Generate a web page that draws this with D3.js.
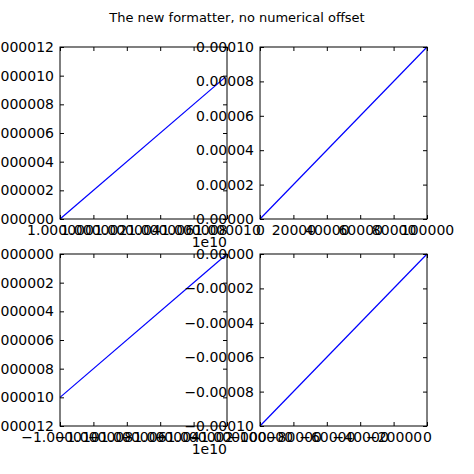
<!DOCTYPE html><html><head><meta charset="utf-8"><script src="https://cdn.jsdelivr.net/npm/d3@7"></script>
<style>body{margin:0;background:#fff}</style></head><body><svg width="474" height="474"></svg>
<script>
const title = "The new formatter, no numerical offset";
const p1x = [0, 1e5], p1y = [0, 12], p1xt = [0,2e4,4e4,6e4,8e4,1e5], p1xl = ["1.000000","1.000002","1.000004","1.000006","1.000008","1.000010"];
const p1yt = [0,2,4,6,8,10,12], p1yl = ["1.000000","1.000002","1.000004","1.000006","1.000008","1.000010","1.000012"];
const p1line = [[0,0],[99000,9.9]];
const p2x = [0, 1e5], p2y = [0, 1e-4], p2xt = [0,2e4,4e4,6e4,8e4,1e5], p2xl = ["0","20000","40000","60000","80000","100000"];
const p2yt = [0,2e-5,4e-5,6e-5,8e-5,1e-4], p2yl = ["0.00000","0.00002","0.00004","0.00006","0.00008","0.00010"];
const p2line = [[0,0],[1e5,1e-4]];
const p3x = [-10, 0], p3y = [-12, 0], p3xt = [-10,-8,-6,-4,-2,0], p3xl = ["\u22121.000010","\u22121.000008","\u22121.000006","\u22121.000004","\u22121.000002","\u22121.000000"];
const p3yt = [0,-2,-4,-6,-8,-10,-12], p3yl = ["\u22121.000000","\u22121.000002","\u22121.000004","\u22121.000006","\u22121.000008","\u22121.000010","\u22121.000012"];
const p3line = [[-10,-10],[0,0]];
const p4x = [-1e5, 0], p4y = [-1e-4, 0], p4xt = [-1e5,-8e4,-6e4,-4e4,-2e4,0], p4xl = ["\u2212100000","\u221280000","\u221260000","\u221240000","\u221220000","0"];
const p4yt = [0,-2e-5,-4e-5,-6e-5,-8e-5,-1e-4], p4yl = ["0.00000","\u22120.00002","\u22120.00004","\u22120.00006","\u22120.00008","\u22120.00010"];
const p4line = [[-1e5,-1e-4],[0,0]];

const svg = d3.select("svg");
const F = "DejaVu Sans, sans-serif";
svg.append("text").attr("x",237).attr("y",22).attr("text-anchor","middle").attr("font-family",F).attr("font-size",13).text(title);
const panels = [
 {l:60,t:47,xd:p1x,yd:p1y,xt:p1xt,xl:p1xl,yt:p1yt,yl:p1yl,line:p1line,off:"1e10"},
 {l:260,t:47,xd:p2x,yd:p2y,xt:p2xt,xl:p2xl,yt:p2yt,yl:p2yl,line:p2line},
 {l:60,t:254,xd:p3x,yd:p3y,xt:p3xt,xl:p3xl,yt:p3yt,yl:p3yl,line:p3line,off:"1e10"},
 {l:260,t:254,xd:p4x,yd:p4y,xt:p4xt,xl:p4xl,yt:p4yt,yl:p4yl,line:p4line}
];
const W=167,H=172;
panels.forEach(p=>{
  const g=svg.append("g").attr("transform",`translate(${p.l},${p.t})`);
  const x=d3.scaleLinear().domain(p.xd).range([0,W]);
  const y=d3.scaleLinear().domain(p.yd).range([H,0]);
  g.append("path").datum(p.line).attr("fill","none").attr("stroke","#0000ff").attr("stroke-width",1.2)
   .attr("d",d3.line().x(d=>x(d[0])).y(d=>y(d[1])));
  const mk=(ax,vals,labels,tr,show)=>{
    const a=g.append("g").attr("transform",tr).call(ax.tickValues(vals).tickSize(-4).tickPadding(6).tickFormat(show?(d,i)=>labels[i]:""));
    a.select(".domain").remove();
    a.selectAll("line").attr("stroke","#000");
    a.selectAll("text").attr("font-family",F).attr("font-size",14).attr("fill","#000");
  };
  mk(d3.axisBottom(x),p.xt,p.xl,`translate(0,${H})`,true);
  mk(d3.axisTop(x),p.xt,p.xl,`translate(0,0)`,false);
  mk(d3.axisLeft(y),p.yt,p.yl,`translate(0,0)`,true);
  mk(d3.axisRight(y),p.yt,p.yl,`translate(${W},0)`,false);
  g.append("rect").attr("width",W).attr("height",H).attr("fill","none").attr("stroke","#000");
  if(p.off) g.append("text").attr("x",W).attr("y",H+28).attr("text-anchor","end").attr("font-family",F).attr("font-size",14).text(p.off);
});
</script></body></html>
